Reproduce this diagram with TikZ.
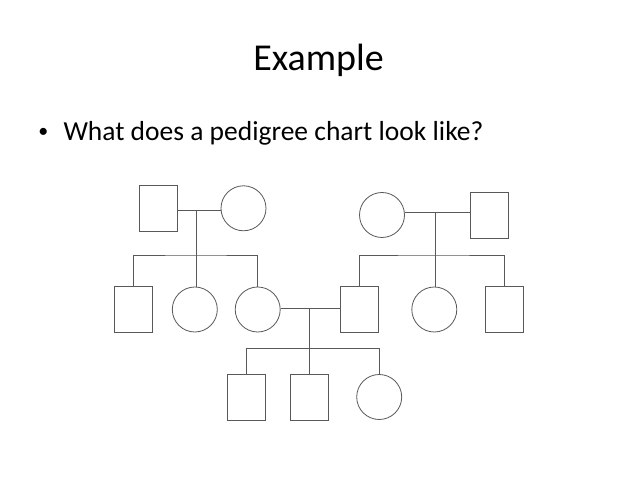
\documentclass[tikz,border=0pt]{standalone}
\usepackage{fontspec}
\setmainfont{Carlito}
\usetikzlibrary{calc}
\tikzset{
	male/.style={draw=black!65, line width=0.8pt, fill=white, minimum width=38pt, minimum height=46pt, inner sep=0pt},
	female/.style={draw=black!65, line width=0.8pt, fill=white, circle, minimum size=45pt, inner sep=0pt},
	link/.style={draw=black!65, line width=0.8pt}
}

\begin{document}
\begin{tikzpicture}[x=1pt, y=-1pt]
			%%%%% START %%%%%
			
			\useasboundingbox[fill=white] (0, 0) rectangle (638, 478);
			
			\node[anchor=base] (title) at (318.5, 70.7) {\fontsize{38}{42}\selectfont Example};
			\node[anchor=base] (dot) at (43.3, 138) {\fontsize{20}{24}\selectfont •};
			\node[anchor=base west, inner sep=0pt] (question) at (63.3, 141) {\fontsize{27.5}{32}\selectfont What does a pedigree chart look like?};
			
			% grandparents
			\node[male] (gpa1) at (158.3, 208.3) {};
			\node[female] (gma1) at (243.5, 208.3) {};
			\node[female] (gma2) at (382, 215) {};
			\node[male] (gpa2) at (489.5, 215) {};
			
			% parents and siblings
			\node[male] (son1) at (133.2, 309.3) {};
			\node[female] (dau1) at (194.8, 309.5) {};
			\node[female] (mom) at (257.7, 309.5) {};
			\node[male] (dad) at (359.8, 309.3) {};
			\node[female] (dau2) at (434.3, 309.5) {};
			\node[male] (son2) at (504.7, 309.3) {};
			
			% grandchildren
			\node[male] (kid1) at (246.5, 397) {};
			\node[male] (kid2) at (309.5, 397) {};
			\node[female] (kid3) at (379.2, 397) {};
			
			\coordinate (wed1) at (196.3, 210);
			\coordinate (sib1) at (196.3, 255);
			\coordinate (wed2) at (435.3, 212);
			\coordinate (sib2) at (435.3, 255);
			\coordinate (wed3) at (309.6, 308);
			\coordinate (sib3) at (309.6, 348.3);
			
			\draw[link] (gpa1.east |- wed1) -- (gma1.west |- wed1);
			\draw[link] (wed1) -- (sib1);
			\draw[link] (son1.north) |- (sib1) -| (mom.north);
			\draw[link] (sib1) -- (sib1 |- dau1.north);
			
			\draw[link] (gma2.east |- wed2) -- (gpa2.west |- wed2);
			\draw[link] (wed2) -- (sib2);
			\draw[link] (dad.north) |- (sib2) -| (son2.north);
			\draw[link] (sib2) -- (sib2 |- dau2.north);
			
			\draw[link] (mom.east |- wed3) -- (dad.west |- wed3);
			\draw[link] (wed3) -- (sib3);
			\draw[link] (kid1.north) |- (sib3) -| (kid3.north);
			\draw[link] (sib3) -- (sib3 |- kid2.north);
			
			%%%%% END %%%%%
		\end{tikzpicture}
\end{document}
